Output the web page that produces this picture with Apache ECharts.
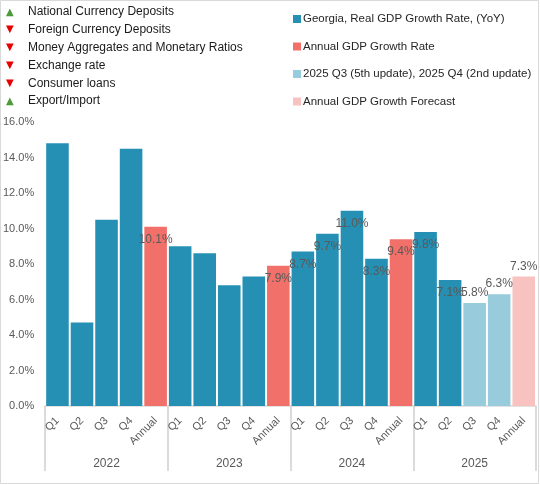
<!DOCTYPE html>
<html>
<head>
<meta charset="utf-8">
<script src="https://cdn.jsdelivr.net/npm/echarts@6/dist/echarts.min.js"></script>
<style>
  html, body { margin: 0; padding: 0; background: #fff; }
  #chart { width: 540px; height: 485px; }
</style>
</head>
<body>
<div id="chart"></div>
<script>
// data
var years = ['2022', '2023', '2024', '2025'];
var periods = ['Q1', 'Q2', 'Q3', 'Q4', 'Annual'];
var growth2022 = [14.8, 4.7, 10.5, 14.5, 10.1];
var growth2023 = [9.0, 8.6, 6.8, 7.3, 7.9];
var growth2024 = [8.7, 9.7, 11.0, 8.3, 9.4];
var growth2025 = [9.8, 7.1, 5.8, 6.3, 7.3];
// 0 = quarterly, 1 = annual, 2 = preliminary quarter, 3 = forecast
var kind2022 = [0, 0, 0, 0, 1];
var kind2023 = [0, 0, 0, 0, 1];
var kind2024 = [0, 0, 0, 0, 1];
var kind2025 = [0, 0, 2, 2, 3];
// which bars carry a value label
var showLabel2022 = [false, false, false, false, true];
var showLabel2023 = [false, false, false, false, true];
var showLabel2024 = [true, true, true, true, true];
var showLabel2025 = [true, true, true, true, true];

var seriesNames = ['Georgia, Real GDP Growth Rate, (YoY)', 'Annual GDP Growth Rate',
  '2025 Q3 (5th update), 2025 Q4 (2nd update)', 'Annual GDP Growth Forecast'];
var seriesColors = ['#2590b4', '#f1716a', '#98cbdc', '#f8c2c1'];

var indicators = ['National Currency Deposits', 'Foreign Currency Deposits',
  'Money Aggregates and Monetary Ratios', 'Exchange rate', 'Consumer loans', 'Export/Import'];
var indicatorUp = [true, false, false, false, false, true];

var myChart = echarts.init(document.getElementById('chart'));

var categories = [];
var values = [].concat(growth2022, growth2023, growth2024, growth2025);
var kinds = [].concat(kind2022, kind2023, kind2024, kind2025);
var labels = [].concat(showLabel2022, showLabel2023, showLabel2024, showLabel2025);
years.forEach(function (y) {
  periods.forEach(function (p) { categories.push(p); });
});

var series = seriesNames.map(function (name, s) {
  return {
    name: name,
    type: 'bar',
    stack: 'all',
    barCategoryGap: '8%',
    itemStyle: { color: seriesColors[s] },
    data: values.map(function (v, i) {
      if (kinds[i] !== s) return '-';
      // the light 2025 bars have labels above, the rest inside at top
      var pos = (kinds[i] >= 2) ? 'top' : 'insideTop';
      return {
        value: v,
        label: {
          show: labels[i],
          position: pos,
          distance: pos === 'top' ? 4 : 7,
          formatter: function (p) { return p.value.toFixed(1) + '%'; },
          color: '#595959',
          fontSize: 12,
          fontFamily: 'Liberation Sans'
        }
      };
    })
  };
});

// left text list with arrows
var graphics = [{
  type: 'rect',
  shape: { x: 0.5, y: 0.5, width: 538, height: 483 },
  style: { fill: 'none', stroke: '#d9d9d9', lineWidth: 1 },
  silent: true
}];
indicators.forEach(function (t, i) {
  var y = 6 + i * 17.8;
  graphics.push({
    type: 'text', left: 6, top: y + 1,
    style: { text: indicatorUp[i] ? '▲' : '▼', fill: indicatorUp[i] ? '#4c9a3a' : '#e60000',
      font: '10px "DejaVu Sans"' }
  });
  graphics.push({
    type: 'text', left: 28, top: y,
    style: { text: t, fill: '#1a1a1a', font: '12px "Liberation Sans"' }
  });
});

var option = {
  backgroundColor: '#fff',
  animation: false,
  textStyle: { fontFamily: 'Liberation Sans' },
  legend: {
    data: seriesNames,
    orient: 'vertical',
    left: 288,
    top: 8,
    itemGap: 15.5,
    itemWidth: 8,
    itemHeight: 8,
    icon: 'rect',
    textStyle: { color: '#262626', fontSize: 11.5, fontFamily: 'Liberation Sans', padding: [0, 0, 0, -3] }
  },
  graphic: graphics,
  grid: { left: 43, right: 4, top: 122, bottom: 79 },
  xAxis: [{
    type: 'category',
    data: categories,
    axisLine: { lineStyle: { color: '#d9d9d9', width: 1.5 } },
    axisTick: { show: false },
    axisLabel: { interval: 0, rotate: 45, margin: 13, color: '#595959', fontSize: 11 }
  }, {
    type: 'category',
    data: years,
    position: 'bottom',
    axisLine: { show: false },
    axisTick: { show: true, length: 65, lineStyle: { color: '#d0d0d0', width: 1.5 } },
    axisLabel: { margin: 52, color: '#595959', fontSize: 12 }
  }],
  yAxis: {
    type: 'value',
    min: 0,
    max: 16,
    interval: 2,
    splitLine: { show: false },
    axisLine: { show: false },
    axisLabel: {
      margin: 11,
      color: '#595959',
      fontSize: 11,
      formatter: function (v) { return v.toFixed(1) + '%'; }
    }
  },
  series: series
};

myChart.setOption(option);
</script>
</body>
</html>
